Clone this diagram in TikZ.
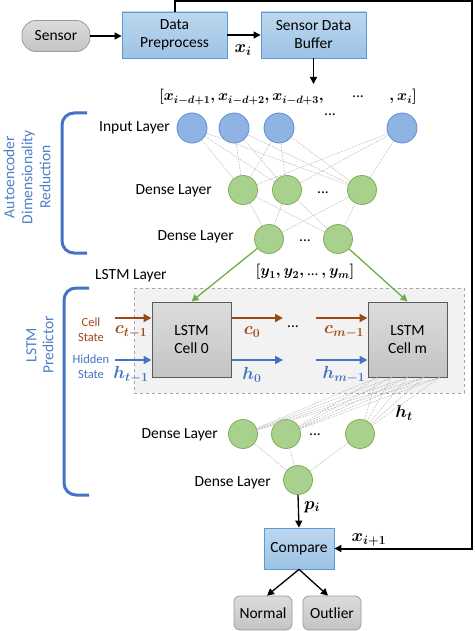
\RequirePackage{fix-cm}
\documentclass[tikz,border=0pt]{standalone}
\usepackage{fontspec}
\setmainfont{Carlito}
\usetikzlibrary{arrows.meta,calc}
\definecolor{boxtop}{HTML}{BDD7EE}
\definecolor{boxbot}{HTML}{9DC3E6}
\definecolor{boxline}{HTML}{5B9BD5}
\definecolor{circblue}{HTML}{8FB4E3}
\definecolor{circblueline}{HTML}{5B8FD0}
\definecolor{circgreen}{HTML}{A9D18E}
\definecolor{circgreenline}{HTML}{7DAF5A}
\definecolor{graytop}{HTML}{DCDCDC}
\definecolor{graybot}{HTML}{C4C4C4}
\definecolor{grayline}{HTML}{9A9A9A}
\definecolor{cellline}{HTML}{5A5A5A}
\definecolor{brownc}{HTML}{9C4A15}
\definecolor{bluec}{HTML}{4472C4}
\definecolor{greenc}{HTML}{70AD47}
\definecolor{labblue}{HTML}{4F7FC4}
\begin{document}
\begin{tikzpicture}[x=1pt,y=-1pt,
  every node/.style={font=\fontsize{15.5}{18}\selectfont, inner sep=0pt},
  mth/.style={font=\fontsize{17.5}{20}\selectfont\boldmath},
  seqm/.style={font=\fontsize{15.2}{18}\selectfont\boldmath},
  bluebox/.style={draw=boxline, line width=0.8pt, top color=boxtop, bottom color=boxbot, align=center, minimum width=105pt, minimum height=46pt},
  graybox/.style={draw=grayline, line width=0.8pt, top color=graytop, bottom color=graybot, rounded corners=6pt, align=center},
  cellbox/.style={draw=cellline, line width=1pt, top color=graytop, bottom color=graybot, align=center, minimum width=79pt, minimum height=75pt},
  bnode/.style={circle, draw=circblueline, line width=0.8pt, fill=circblue, minimum size=30pt},
  gnode/.style={circle, draw=circgreenline, line width=0.8pt, fill=circgreen, minimum size=29pt},
  arr/.style={-{Triangle[length=7pt,width=7pt]}, line width=1.3pt, black},
  fbarr/.style={-{Triangle[length=7pt,width=7pt]}, line width=2pt, black},
  garr/.style={-{Triangle[length=7pt,width=7pt]}, line width=1.3pt, greenc},
  carr/.style={-{Triangle[length=8pt,width=8pt]}, line width=2.6pt, brownc},
  harr/.style={-{Triangle[length=8pt,width=8pt]}, line width=2.6pt, bluec},
  conn/.style={draw=gray!55, line width=0.45pt, dash pattern=on 2pt off 1pt},
  bracket/.style={draw=bluec, line width=3pt, rounded corners=12pt},
  lay/.style={anchor=east},
  small/.style={font=\fontsize{12.5}{15}\selectfont, align=center}
]
\useasboundingbox (0,0) rectangle (474,631);

% LSTM layer background
\node[draw=gray!70, dashed, fill=black!5, line width=0.7pt, minimum width=330pt, minimum height=105pt] (lstmbox) at (299,340.5) {};

% top boxes
\node[graybox, minimum width=68pt, minimum height=31pt, rounded corners=14pt] (sensor) at (56,36) {Sensor};
\node[bluebox] (prep) at (174.5,35) {Data\\Preprocess};
\node[bluebox] (buf) at (313.5,35) {Sensor Data\\Buffer};
\node[mth] (xi) at (243,50) {$x_i$};

\draw[arr] (sensor.east) -- (sensor.east -| prep.west);
\draw[arr] (prep.east) -- (buf.west);
\coordinate (seqtop) at (313.5,84);
\draw[arr] (buf.south) -- (seqtop);

% sequence
\node[seqm, anchor=west] (seq1) at (159,97) {$[x_{i-d+1}, x_{i-d+2}, x_{i-d+3},$};
\node (seq2) at (358,97) {...};
\node[seqm, anchor=east] (seq3) at (417,97) {$, x_i]$};

% input layer
\node[lay] (linput) at (170,128) {Input Layer};
\node[bnode] (i1) at (192,128) {};
\node[bnode] (i2) at (234,128) {};
\node[bnode] (i3) at (279,128) {};
\node[bnode] (i4) at (402,128) {};
\node (idots) at (330,115) {...};

% dense 1
\node[lay] (ld1) at (212,191) {Dense Layer};
\node[gnode] (a1) at (243,190) {};
\node[gnode] (a2) at (287,190) {};
\node[gnode] (a3) at (362,190) {};
\node (adots) at (323,193) {...};

% dense 2
\node[lay] (ld2) at (234,237) {Dense Layer};
\node[gnode] (b1) at (269,239) {};
\node[gnode] (b2) at (338,239) {};
\node (bdots) at (305,241) {...};

\foreach \s in {i1,i2,i3,i4}{\foreach \t in {a1,a2,a3}{\draw[conn] (\s) -- (\t);}}
\foreach \s in {a1,a2,a3}{\foreach \t in {b1,b2}{\draw[conn] (\s) -- (\t);}}

\node[seqm] (ylab) at (305,272) {$[y_1, y_2,\,$\textmd{...}$\,, y_m]$};
\node[anchor=west] (llstm) at (95,276) {LSTM Layer};

% LSTM cells
\node[cellbox] (c0) at (191.5,339.5) {LSTM\\Cell 0};
\node[cellbox] (cm) at (407.5,339.5) {LSTM\\Cell m};

\draw[garr] (b1) -- (c0.north);
\draw[garr] (b2) -- (cm.north);

% cell state arrows
\coordinate (cin) at (115,318);
\coordinate (c1e) at (283,318);
\coordinate (c2s) at (316,318);
\coordinate (hin) at (115,360);
\coordinate (h1e) at (283,360);
\coordinate (h2s) at (316,360);
\draw[carr] (cin) -- (cin -| c0.west);
\draw[carr] (c0.east |- cin) -- (c1e);
\draw[carr] (c2s) -- (c2s -| cm.west);
\draw[harr] (hin) -- (hin -| c0.west);
\draw[harr] (c0.east |- hin) -- (h1e);
\draw[harr] (h2s) -- (h2s -| cm.west);
\node (cdots) at (293,327) {...};

\node[small, text=brownc] (lcell) at (91,330) {Cell\\State};
\node[small, text=bluec] (lhid) at (91,367) {Hidden\\State};
\node[mth, text=brownc] (ct) at (131,332) {$c_{t-1}$};
\node[mth, text=brownc] (c0l) at (252,332) {$c_0$};
\node[mth, text=brownc] (cml) at (344,332) {$c_{m-1}$};
\node[mth, text=bluec] (ht) at (131,375) {$h_{t-1}$};
\node[mth, text=bluec] (h0l) at (252,375) {$h_0$};
\node[mth, text=bluec] (hml) at (344,375) {$h_{m-1}$};

% dense 3
\node[lay] (ld3) at (218,435) {Dense Layer};
\node[gnode] (e1) at (243,434) {};
\node[gnode] (e2) at (286,434) {};
\node[gnode] (e3) at (360,434) {};
\node (edots) at (315,435) {...};
\node[mth] (htl) at (404,413) {$h_t$};

\foreach \p in {0.12,0.3,0.5,0.7,0.9}{
  \coordinate (src) at ($(cm.south west)!\p!(cm.south east)$);
  \foreach \t in {e1,e2,e3}{\draw[conn] (src) -- (\t);}
}

% dense 4
\node[lay] (ld4) at (271,483) {Dense Layer};
\node[gnode] (f1) at (298,480) {};
\foreach \s in {e1,e2,e3}{\draw[conn] (\s) -- (f1);}

% compare
\node[bluebox, minimum width=70pt, minimum height=41pt] (cmp) at (299,548.5) {Compare};
\draw[arr] (f1.south) -- (cmp.north);
\node[mth] (pil) at (312,507) {$p_i$};

\node[graybox, minimum width=58pt, minimum height=34pt] (norm) at (263,613) {Normal};
\node[graybox, minimum width=58pt, minimum height=34pt] (outl) at (332,613) {Outlier};
\draw[arr] (cmp.south) -- ($(norm.north)+(4,0)$);
\draw[arr] (cmp.south) -- ($(outl.north)+(-4,0)$);

% feedback
\coordinate (fb1) at (174.5,1.5);
\coordinate (fb2) at (472,1.5);
\coordinate (fb3) at (472,548.5);
\draw[fbarr] (prep.north) -- (fb1) -- (fb2) -- (fb3) -- (cmp.east);
\node[mth] (xnext) at (369,540) {$x_{i+1}$};

% brackets
\coordinate (ba1) at (87,113);
\coordinate (ba2) at (62,113);
\coordinate (ba3) at (62,253);
\coordinate (ba4) at (87,253);
\draw[bracket] (ba1) -- (ba2) -- (ba3) -- (ba4);
\coordinate (bb1) at (89,288);
\coordinate (bb2) at (64,288);
\coordinate (bb3) at (64,495);
\coordinate (bb4) at (89,495);
\draw[bracket] (bb1) -- (bb2) -- (bb3) -- (bb4);
\node[rotate=90, align=center, text=labblue] (lauto) at (27,177) {Autoencoder\\Dimensionality\\Reduction};
\node[rotate=90, align=center, text=labblue, font=\fontsize{15.5}{17}\selectfont] (lpred) at (40,345) {LSTM\\Predictor};
\end{tikzpicture}
\end{document}
